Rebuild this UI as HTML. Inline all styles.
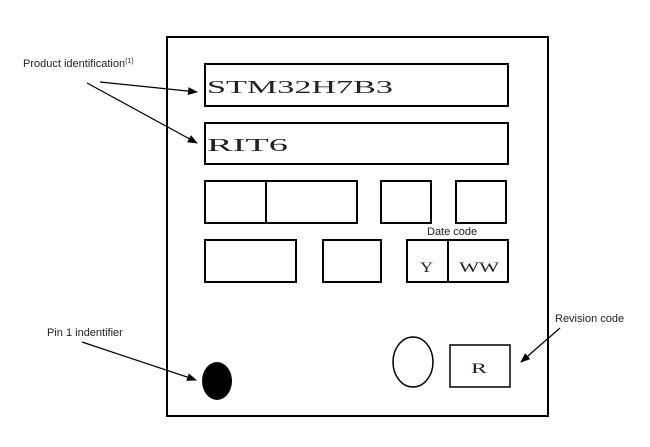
<!DOCTYPE html>
<html><head><style>body{margin:0;background:#fff}svg{display:block}</style></head><body>
<svg width="650" height="447" viewBox="0 0 650 447" xmlns="http://www.w3.org/2000/svg">
<defs><marker id="a" markerWidth="10" markerHeight="8" refX="9" refY="4" orient="auto" markerUnits="userSpaceOnUse"><path d="M0,0 L10,4 L0,8 z" fill="#000"/></marker></defs>
<g fill="none" stroke="#000" stroke-width="2">
<rect x="167" y="37" width="381" height="379"/>
<rect x="205" y="64" width="303" height="42"/>
<rect x="205" y="123" width="303" height="41"/>
<rect x="205" y="181" width="152" height="42"/>
<line x1="266" y1="181" x2="266" y2="223"/>
<rect x="381" y="181" width="50" height="42"/>
<rect x="456" y="181" width="50" height="42"/>
<rect x="205" y="240" width="91" height="42"/>
<rect x="323" y="240" width="58" height="42"/>
<rect x="407" y="240" width="101" height="42"/>
<line x1="448" y1="240" x2="448" y2="282"/>
<ellipse cx="413" cy="362" rx="20" ry="25" stroke-width="1.5"/>
<rect x="450" y="345" width="60" height="42" stroke-width="1.5"/>
</g>
<ellipse cx="217" cy="381" rx="15" ry="19" fill="#000"/>
<g stroke="#000" stroke-width="1.2" marker-end="url(#a)">
<line x1="100" y1="82" x2="197" y2="92"/>
<line x1="87" y1="83" x2="197" y2="143"/>
<line x1="82" y1="342" x2="196" y2="380"/>
<line x1="560" y1="328" x2="521" y2="362"/>
</g>
<g font-family="Liberation Serif, serif" font-size="18" fill="#222">
<text x="207" y="93" textLength="186" lengthAdjust="spacingAndGlyphs">STM32H7B3</text>
<text x="207" y="151" textLength="81" lengthAdjust="spacingAndGlyphs">RIT6</text>
<text x="420" y="272" font-size="15" textLength="13" lengthAdjust="spacingAndGlyphs">Y</text>
<text x="459" y="272" font-size="15" textLength="40" lengthAdjust="spacingAndGlyphs">WW</text>
<text x="471" y="373" font-size="15" textLength="16" lengthAdjust="spacingAndGlyphs">R</text>
</g>
<g font-family="Liberation Sans, sans-serif" font-size="11" fill="#222">
<text x="23" y="67">Product identification<tspan font-size="7" dy="-4">(1)</tspan></text>
<text x="427" y="235">Date code</text>
<text x="47" y="336">Pin 1 indentifier</text>
<text x="555" y="322">Revision code</text>
</g>
</svg>
</body></html>
